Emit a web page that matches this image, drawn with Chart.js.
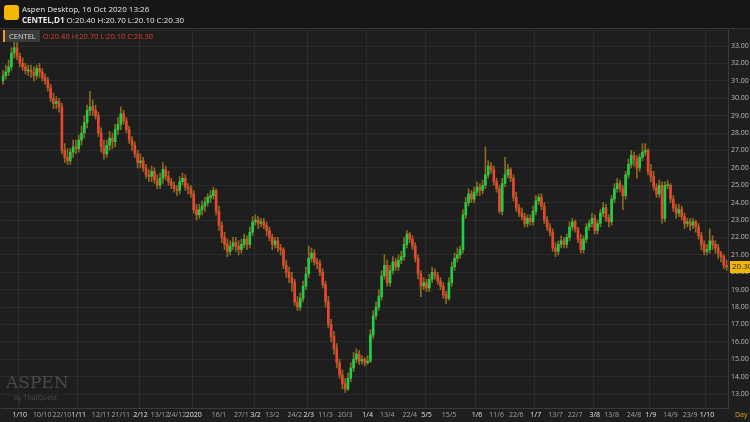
<!DOCTYPE html>
<html>
<head>
<meta charset="utf-8">
<script src="https://cdn.jsdelivr.net/npm/chart.js@4"></script>
<style>
  body { margin:0; background:#1e1e1e; font-family:"Open Sans", "DejaVu Sans", sans-serif; }
  #wrap { position:relative; width:750px; height:422px; overflow:hidden; }
  #head { position:absolute; left:0; top:0; width:750px; height:28px; background:#161616; border-bottom:1px solid #333; }
  #icon { position:absolute; left:4px; top:5px; width:15px; height:15px; border-radius:3px; background:#f2b705; }
  #t1 { position:absolute; left:22px; top:3px; font-size:8px; color:#e6e6e6; }
  #t2 { position:absolute; left:22px; top:14px; font-size:8px; color:#e6e6e6; }
  #tag { position:absolute; left:3px; top:30px; font-size:7.5px; color:#ddd; }
  #tag b { display:inline-block; background:#3a3a3a; padding:1px 4px; border-left:2px solid #e8a317; font-weight:normal; }
  #tag span { color:#d9412f; margin-left:3px; }
  #logo { position:absolute; left:6px; top:372px; font-family:"DejaVu Serif", serif; font-size:17px; color:#4a4a4a; }
  #logo2 { position:absolute; left:14px; top:393px; font-size:7px; color:#4a4a4a; }
  #day { position:absolute; left:735px; top:410px; font-size:7px; color:#e8a317; }
  canvas { position:absolute; left:0; top:0; }
</style>
</head>
<body>
<div id="wrap">
  <canvas id="c" width="750" height="422"></canvas>
  <div id="head"><div id="icon"></div>
    <div id="t1">Aspen Desktop, 16 Oct 2020 13:26</div>
    <div id="t2"><b>CENTEL,D1</b> O:20.40 H:20.70 L:20.10 C:20.30</div>
  </div>
  <div id="tag"><b>CENTEL</b><span>O:20.40 H:20.70 L:20.10 C:20.30</span></div>
  <div id="logo">ASPEN</div>
  <div id="logo2">by ThaiQuest</div>
  <div id="day">Day</div>
</div>
<script>
// ===== 数据 =====
const opens = [
31.0,31.3,31.5,31.8,32.6,32.9,32.4,32.0,31.8,31.6,
31.6,31.5,31.3,31.7,31.5,31.2,31.0,30.6,30.0,29.7,
29.8,29.5,27.0,26.6,26.4,26.9,27.2,27.1,27.6,28.0,
28.6,29.3,29.5,29.3,29.0,28.0,27.2,26.8,27.3,27.7,
27.5,28.2,28.5,29.1,28.7,28.2,27.6,27.3,26.8,26.3,
26.4,26.0,25.6,25.5,25.8,25.3,25.0,25.4,25.9,25.5,
25.2,25.0,24.8,24.7,25.2,25.4,24.9,24.8,24.5,23.6,
23.3,23.6,23.8,24.0,24.3,24.4,24.7,23.5,22.7,22.0,
21.6,21.2,21.5,21.7,21.5,21.3,21.6,21.9,21.6,22.3,
22.9,23.0,22.8,22.9,22.7,22.4,22.0,21.6,21.8,21.4,
21.3,20.4,20.0,19.7,19.4,18.3,18.0,18.5,19.2,19.9,
20.8,21.1,20.6,20.5,20.0,19.3,18.3,17.0,16.3,15.6,
14.8,14.1,13.6,13.3,13.9,14.5,15.0,15.3,14.9,15.0,
14.8,14.9,16.4,17.5,18.0,18.6,19.8,20.4,19.4,20.1,
20.6,20.3,20.7,20.9,21.6,22.2,21.9,21.5,20.8,19.9,
19.2,19.4,19.1,19.6,20.0,19.8,19.5,19.2,18.7,18.5,
19.4,20.3,20.8,21.0,21.3,23.3,24.0,24.5,24.2,24.6,
24.9,24.7,25.0,25.6,26.1,25.9,25.2,24.8,23.5,25.1,
25.6,25.9,25.4,24.3,23.7,23.4,23.2,22.8,23.1,22.9,
23.5,24.1,24.3,23.8,23.0,22.6,22.3,21.4,21.2,21.6,
21.8,21.6,22.0,22.6,22.9,22.5,21.9,21.3,21.9,22.6,
22.8,23.1,22.4,22.8,23.4,23.7,23.1,22.9,24.2,24.8,
25.1,24.8,24.4,25.6,26.2,26.7,26.5,26.0,26.6,26.9,
27.0,25.8,25.5,24.9,24.5,25.0,23.1,25.0,25.0,24.2,
23.7,23.4,23.6,23.2,22.8,22.9,22.7,22.9,22.6,22.1,
21.6,21.2,21.3,21.8,21.6,21.4,21.1,20.9,20.4];
const closes = [
31.3,31.5,31.8,32.6,32.9,32.4,32.0,31.8,31.6,31.6,
31.5,31.3,31.7,31.5,31.2,31.0,30.6,30.0,29.7,29.8,
29.5,27.0,26.6,26.4,26.9,27.2,27.1,27.6,28.0,28.6,
29.3,29.5,29.3,29.0,28.0,27.2,26.8,27.3,27.7,27.5,
28.2,28.5,29.1,28.7,28.2,27.6,27.3,26.8,26.3,26.4,
26.0,25.6,25.5,25.8,25.3,25.0,25.4,25.9,25.5,25.2,
25.0,24.8,24.7,25.2,25.4,24.9,24.8,24.5,23.6,23.3,
23.6,23.8,24.0,24.3,24.4,24.7,23.5,22.7,22.0,21.6,
21.2,21.5,21.7,21.5,21.3,21.6,21.9,21.6,22.3,22.9,
23.0,22.8,22.9,22.7,22.4,22.0,21.6,21.8,21.4,21.3,
20.4,20.0,19.7,19.4,18.3,18.0,18.5,19.2,19.9,20.8,
21.1,20.6,20.5,20.0,19.3,18.3,17.0,16.3,15.6,14.8,
14.1,13.6,13.3,13.9,14.5,15.0,15.3,14.9,15.0,14.8,
14.9,16.4,17.5,18.0,18.6,19.8,20.4,19.4,20.1,20.6,
20.3,20.7,20.9,21.6,22.2,21.9,21.5,20.8,19.9,19.2,
19.4,19.1,19.6,20.0,19.8,19.5,19.2,18.7,18.5,19.4,
20.3,20.8,21.0,21.3,23.3,24.0,24.5,24.2,24.6,24.9,
24.7,25.0,25.6,26.1,25.9,25.2,24.8,23.5,25.1,25.6,
25.9,25.4,24.3,23.7,23.4,23.2,22.8,23.1,22.9,23.5,
24.1,24.3,23.8,23.0,22.6,22.3,21.4,21.2,21.6,21.8,
21.6,22.0,22.6,22.9,22.5,21.9,21.3,21.9,22.6,22.8,
23.1,22.4,22.8,23.4,23.7,23.1,22.9,24.2,24.8,25.1,
24.8,24.4,25.6,26.2,26.7,26.5,26.0,26.6,26.9,27.0,
25.8,25.5,24.9,24.5,25.0,23.1,25.0,25.0,24.2,23.7,
23.4,23.6,23.2,22.8,22.9,22.7,22.9,22.6,22.1,21.6,
21.2,21.3,21.8,21.6,21.4,21.1,20.9,20.4,20.3];
const highs = [
31.6,31.9,32.2,32.9,33.3,33.2,32.6,32.3,32.0,31.9,
31.9,31.8,31.9,32.0,31.7,31.4,31.2,30.8,30.3,30.1,
30.0,29.7,27.4,27.1,27.1,27.6,27.6,27.9,28.4,29.0,
29.6,30.4,29.9,29.6,29.2,28.3,27.6,27.6,28.1,28.0,
28.5,28.9,29.5,29.3,28.9,28.4,27.8,27.5,27.0,26.8,
26.6,26.2,25.9,26.1,26.0,25.6,25.7,26.3,26.1,25.8,
25.4,25.2,25.0,25.5,25.7,25.6,25.1,25.0,24.7,23.9,
23.9,24.1,24.3,24.5,24.7,24.9,24.8,23.8,22.9,22.3,
21.9,21.8,22.0,22.0,21.8,21.9,22.2,22.1,22.6,23.2,
23.3,23.2,23.1,23.1,22.9,22.6,22.2,22.0,22.0,21.6,
21.4,20.7,20.3,20.0,19.6,18.6,18.8,19.5,20.3,21.5,
21.4,21.3,20.8,20.7,20.2,19.5,18.6,17.3,16.6,15.9,
15.0,14.4,13.9,14.2,14.8,15.4,15.6,15.5,15.2,15.1,
15.2,16.7,17.8,18.3,19.0,20.1,21.0,20.7,20.4,20.9,
20.8,21.0,21.2,22.0,22.4,22.3,22.1,21.7,21.0,20.1,
19.7,19.6,19.9,20.3,20.2,20.0,19.7,19.4,18.9,19.7,
20.6,21.1,21.4,21.5,23.6,24.3,24.8,24.7,24.9,25.2,
25.1,25.3,27.2,26.4,26.3,26.1,25.4,25.0,25.4,26.6,
26.2,26.0,25.6,24.6,23.9,23.7,23.4,23.3,23.3,23.8,
24.4,24.5,24.5,24.0,23.2,22.8,22.5,21.7,21.8,22.1,
22.0,22.2,22.9,23.1,23.0,22.6,22.2,22.1,22.8,23.0,
23.4,23.3,23.0,23.6,24.0,23.9,23.3,24.4,25.1,25.4,
25.3,25.0,25.8,26.5,27.0,26.9,26.7,26.8,27.4,27.4,
27.1,26.2,25.8,25.1,25.3,25.2,25.2,25.3,25.1,24.4,
23.9,23.9,23.8,23.4,23.1,23.1,23.1,23.0,22.8,22.3,
21.8,21.6,22.5,22.1,21.8,21.6,21.2,21.0,20.7];
const lows = [
30.8,31.1,31.3,31.6,32.3,32.2,31.8,31.6,31.4,31.3,
31.2,31.0,31.1,31.2,31.0,30.8,30.4,29.8,29.4,29.4,
29.2,26.8,26.3,26.2,26.2,26.6,26.8,26.9,27.3,27.7,
28.3,29.0,29.0,28.8,27.8,26.9,26.5,26.6,27.0,27.1,
27.2,27.9,28.2,28.5,28.0,27.4,27.0,26.6,26.0,26.0,
25.8,25.4,25.2,25.2,25.1,24.8,24.8,25.1,25.3,25.0,
24.8,24.6,24.4,24.5,25.0,24.7,24.5,24.3,23.4,23.0,
23.1,23.3,23.5,23.8,24.0,24.2,23.3,22.4,21.7,21.3,
20.9,21.0,21.3,21.2,21.0,21.1,21.4,21.3,21.4,22.1,
22.7,22.5,22.6,22.5,22.1,21.8,21.3,21.4,21.2,21.0,
20.2,19.7,19.4,18.9,18.1,17.8,17.8,18.3,19.0,19.7,
20.6,20.4,20.2,19.8,19.1,18.0,16.8,16.0,15.3,14.5,
13.9,13.3,13.1,13.2,13.7,14.3,14.8,14.7,14.7,14.6,
14.7,14.8,16.2,17.3,17.8,18.4,19.6,19.2,19.2,19.9,
20.1,20.1,20.5,20.7,21.4,21.7,21.3,20.6,19.6,18.6,
19.0,18.9,18.9,19.4,19.6,19.3,19.0,18.5,18.2,18.4,
19.2,20.1,20.6,20.8,21.1,23.1,23.8,24.0,24.0,24.4,
24.4,24.5,24.8,25.4,25.7,25.0,24.6,23.4,23.3,24.9,
25.4,25.2,24.1,23.5,23.2,23.0,22.6,22.6,22.7,22.7,
23.3,23.9,23.6,22.8,22.4,22.1,21.2,20.9,21.0,21.4,
21.4,21.4,21.8,22.4,22.3,21.7,21.1,21.1,21.7,22.4,
22.6,22.2,22.2,22.6,23.2,22.9,22.6,22.7,24.0,24.6,
24.6,23.6,24.2,25.4,26.0,26.1,25.4,25.8,26.4,26.7,
25.6,25.2,24.7,24.3,24.3,22.8,22.9,24.8,24.0,23.5,
23.1,23.2,23.0,22.5,22.6,22.4,22.5,22.3,21.9,21.3,
21.0,21.0,21.1,21.3,21.1,20.8,20.6,20.2,20.1];
// X轴刻度：K线序号 -> 日期标签
const tickIdx  = [6,14,21,27,35,42,49,56,62,68,77,85,90,96,104,109,115,122,130,137,145,151,159,169,176,183,190,197,204,211,217,225,231,238,245,251];
const tickText = ['1/10','10/10','22/10','1/11','12/11','21/11','2/12','13/12','24/12','2020','16/1','27/1','3/2','13/2','24/2','2/3','11/3','20/3','1/4','13/4','22/4','5/5','15/5','1/6','11/6','22/6','1/7','13/7','22/7','3/8','13/8','24/8','1/9','14/9','23/9','1/10'];
const monthStarts = ['1/10','1/11','2/12','2020','3/2','2/3','1/4','5/5','1/6','1/7','3/8','1/9'];
const lastPrice = 20.30;

const labels = closes.map((_, i) => String(i));
const bodyColors = closes.map((c, i) => c >= opens[i] ? '#1fcf45' : '#e8472f');
const tickMap = {};
tickIdx.forEach((t, k) => tickMap[t] = tickText[k]);

// 当前价格标签
const pricePlugin = {
  id: 'price',
  afterDraw(chart) {
    const y = chart.scales.y.getPixelForValue(lastPrice);
    const ctx = chart.ctx;
    ctx.fillStyle = '#f2b705';
    ctx.fillRect(730, y - 6, 20, 12);
    ctx.fillStyle = '#222';
    ctx.font = '8px "Open Sans"';
    ctx.textBaseline = 'middle';
    ctx.fillText(lastPrice.toFixed(2), 732, y);
  }
};

new Chart(document.getElementById('c'), {
  type: 'bar',
  data: {
    labels,
    datasets: [
      { data: closes.map((c, i) => [lows[i], highs[i]]), backgroundColor: '#8a6a1c', barThickness: 1, grouped: false, order: 2 },
      { data: closes.map((c, i) => c === opens[i] ? [c - 0.03, c + 0.03] : [opens[i], c]), backgroundColor: bodyColors, barThickness: 2, grouped: false, order: 1 }
    ]
  },
  plugins: [pricePlugin],
  options: {
    responsive: false,
    animation: false,
    layout: { padding: { top: 30, left: 0, right: 0 } },
    plugins: { legend: { display: false }, tooltip: { enabled: false } },
    scales: {
      x: {
        offset: true,
        grid: {
          color: ctx => (ctx.tick && monthStarts.includes(tickMap[ctx.tick.value])) ? '#2c2c2c' : 'rgba(0,0,0,0)',
          drawTicks: false
        },
        border: { color: '#3a3a3a' },
        ticks: {
          autoSkip: false, maxRotation: 0, padding: 3,
          font: { size: 7, family: 'Open Sans' },
          color: ctx => monthStarts.includes(tickMap[ctx.index]) ? '#e0e0e0' : '#a0a0a0',
          callback: (v, i) => tickMap[i] || ''
        },
        afterFit: s => { s.height = 14; }
      },
      y: {
        position: 'right',
        min: 12.2, max: 33.92,
        grid: { color: '#2a2a2a', drawTicks: false },
        border: { color: '#3a3a3a' },
        ticks: {
          stepSize: 1, padding: 3,
          font: { size: 7, family: 'Open Sans' }, color: '#bbbbbb',
          callback: v => Number.isInteger(v) && v >= 13 && v <= 33 ? v.toFixed(2) : ''
        },
        afterFit: s => { s.width = 22; }
      }
    }
  }
});
</script>
</body>
</html>
